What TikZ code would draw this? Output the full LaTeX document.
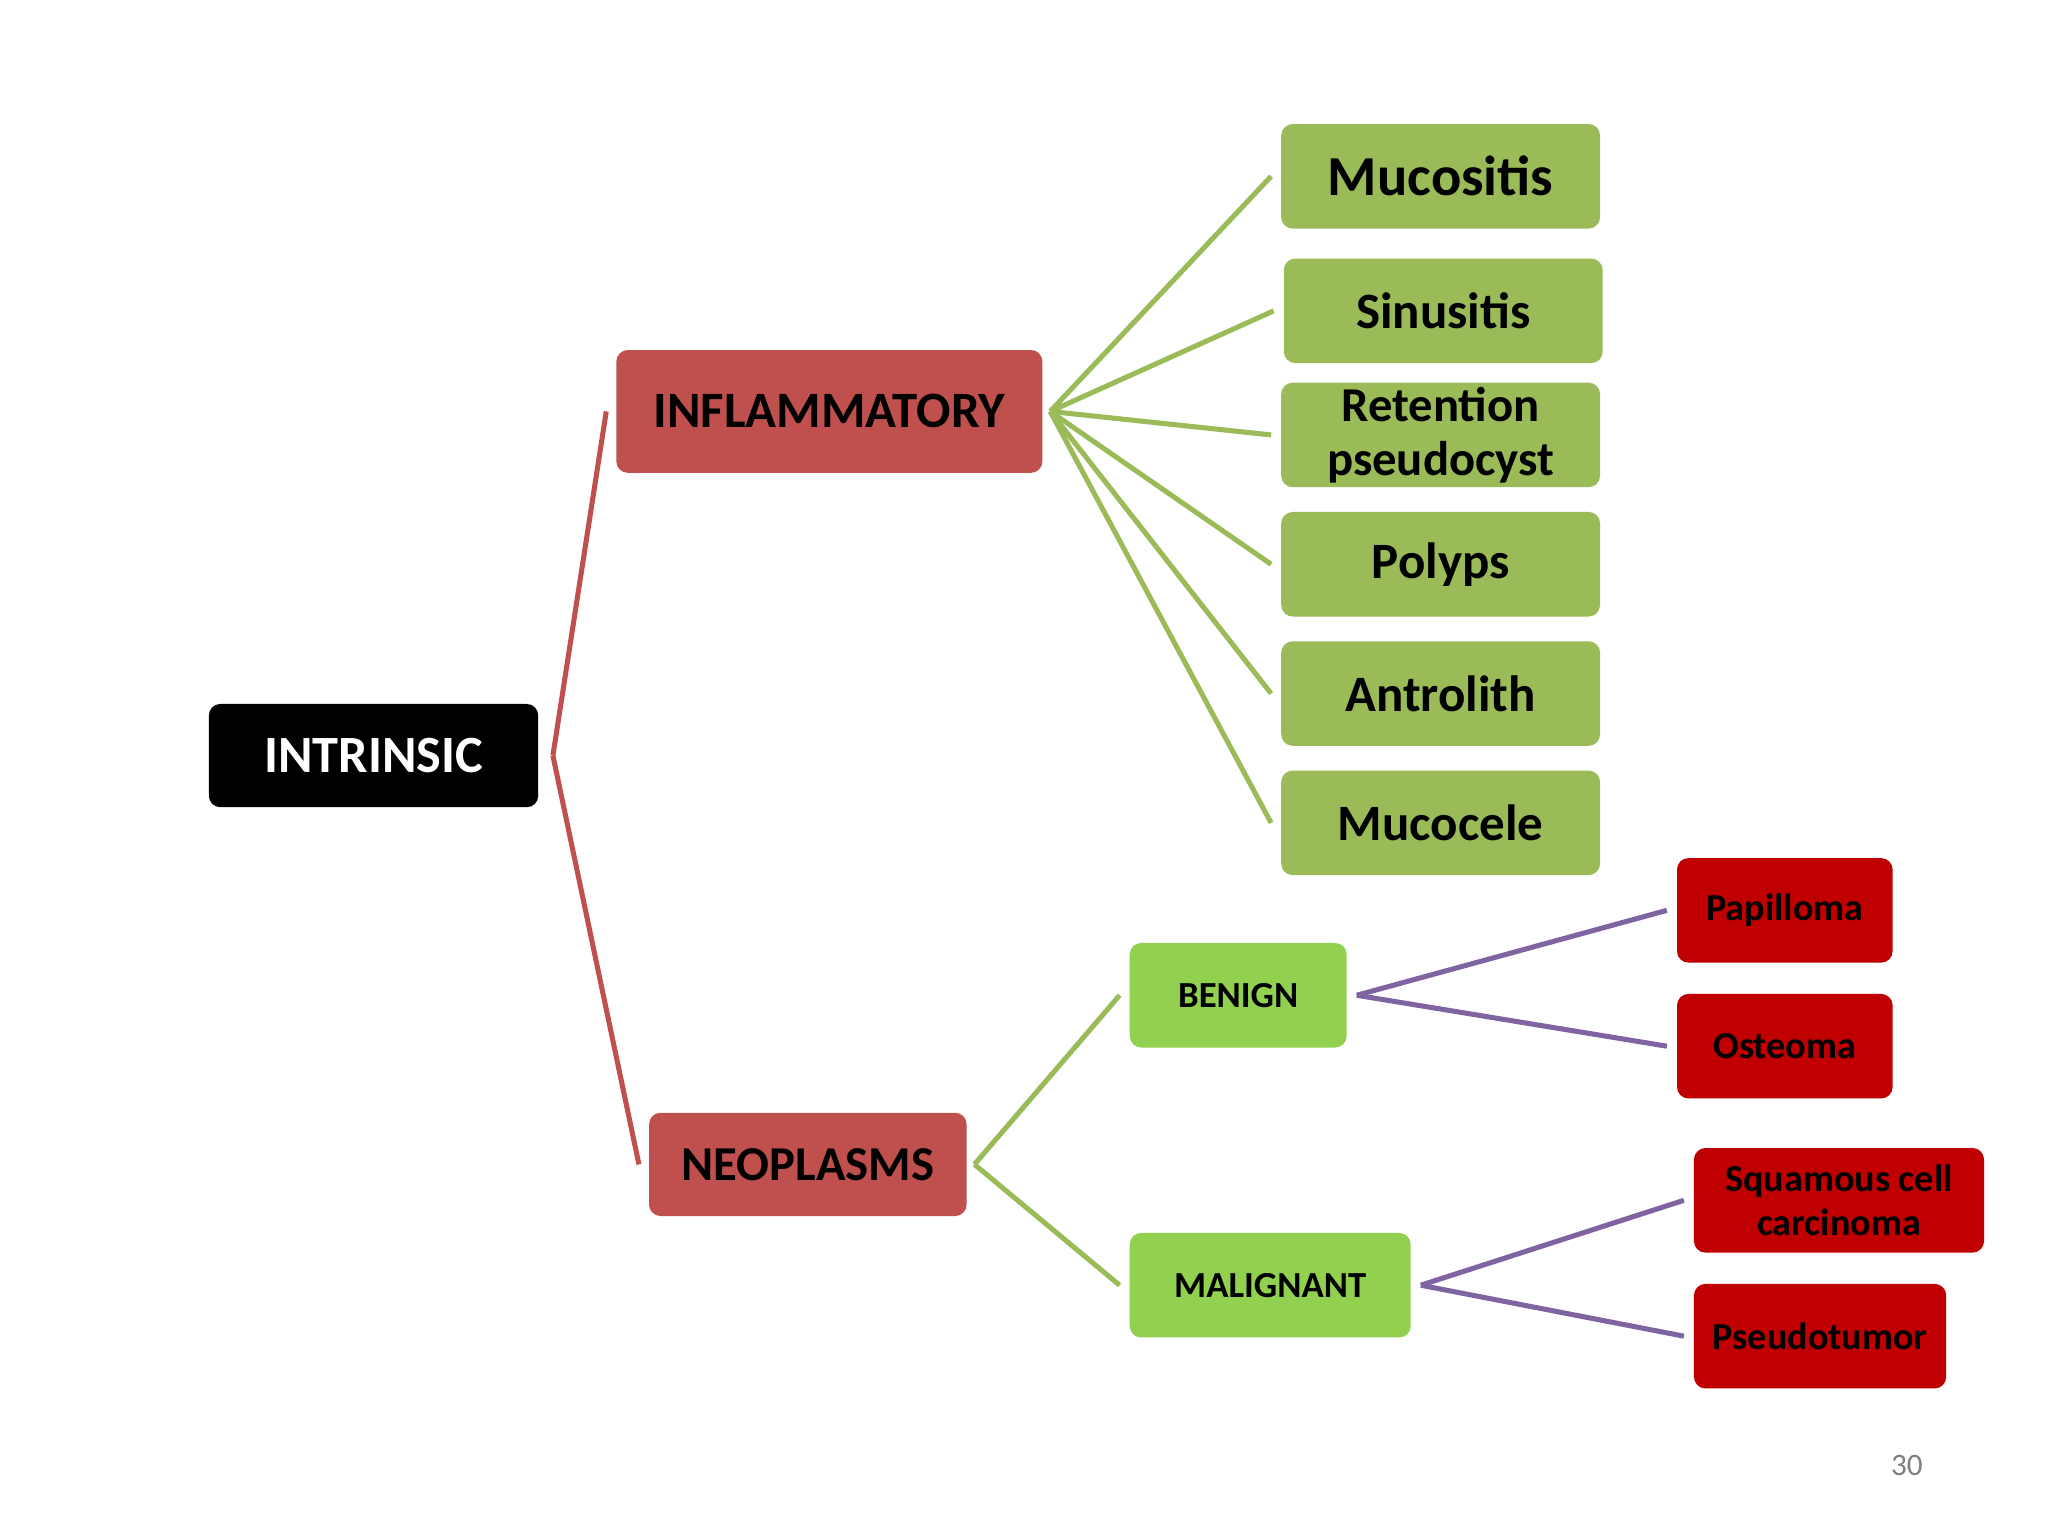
\documentclass[tikz,border=0pt]{standalone}
\usepackage{fontspec}
\setmainfont{Carlito}
\definecolor{inf}{HTML}{C0504D}
\definecolor{grn}{HTML}{9BBB59}
\definecolor{lgr}{HTML}{92D050}
\definecolor{drd}{HTML}{C00000}
\definecolor{pur}{HTML}{8064A2}
\tikzset{
 bx/.style={rounded corners=2.5pt,inner sep=0pt,align=center,font=\bfseries\fontsize{11.1}{11.6}\selectfont},
 gbox/.style={bx,fill=grn,minimum width=2.44cm,minimum height=0.8cm},
 rbox/.style={bx,fill=drd,minimum height=0.8cm,font=\bfseries\fontsize{8.3}{9.4}\selectfont},
 lbox/.style={bx,fill=lgr,minimum height=0.8cm,font=\bfseries\fontsize{8}{9}\selectfont},
}
\begin{document}
\begin{tikzpicture}[x=0.01cm,y=-0.01cm]
\useasboundingbox (0,0) rectangle (1568,1176);
\node[bx,fill=black,text=white,minimum width=2.52cm,minimum height=0.79cm,font=\bfseries\fontsize{11.4}{12}\selectfont] (in) at (286,578.5) {INTRINSIC};
\node[bx,fill=inf,minimum width=3.26cm,minimum height=0.94cm] (inf) at (635,315) {INFLAMMATORY};
\node[bx,fill=inf,minimum width=2.43cm,minimum height=0.79cm,font=\bfseries\fontsize{10.6}{11}\selectfont] (neo) at (618.5,891.5) {NEOPLASMS};
\node[gbox,font=\bfseries\fontsize{12.3}{13}\selectfont] (g1) at (1103,135) {Mucositis};
\node[gbox] (g2) at (1105,238) {Sinusitis};
\node[gbox,font=\bfseries\fontsize{10.6}{11.8}\selectfont] (g3) at (1103,333) {Retention\\pseudocyst};
\node[gbox] (g4) at (1103,432) {Polyps};
\node[gbox] (g5) at (1103,531) {Antrolith};
\node[gbox] (g6) at (1103,630) {Mucocele};
\node[lbox,minimum width=1.66cm] (b) at (948,762) {BENIGN};
\node[lbox,minimum width=2.15cm] (m) at (972.5,984) {MALIGNANT};
\node[rbox,minimum width=1.65cm] (p1) at (1366.5,697) {Papilloma};
\node[rbox,minimum width=1.65cm] (p2) at (1366.5,801) {Osteoma};
\node[rbox,minimum width=2.22cm] (p3) at (1408,919) {Squamous cell\\carcinoma};
\node[rbox,minimum width=1.93cm] (p4) at (1393.5,1023) {Pseudotumor};
\node[text=gray,font=\fontsize{6.8}{7}\selectfont] (pg) at (1460,1122) {30};
\begin{scope}[line width=1.1pt]
\draw[inf] ([xshift=3pt]in.east) -- ([xshift=-2pt]inf.west);
\draw[inf] ([xshift=3pt]in.east) -- ([xshift=-2pt]neo.west);
\foreach \g in {g1,g2,g3,g4,g5,g6}
 \draw[grn] ([xshift=1.5pt]inf.east) -- ([xshift=-2pt]\g.west);
\draw[grn] ([xshift=1.5pt]neo.east) -- ([xshift=-2pt]b.west);
\draw[grn] ([xshift=1.5pt]neo.east) -- ([xshift=-2pt]m.west);
\draw[pur] ([xshift=2pt]b.east) -- ([xshift=-2pt]p1.west);
\draw[pur] ([xshift=2pt]b.east) -- ([xshift=-2pt]p2.west);
\draw[pur] ([xshift=2pt]m.east) -- ([xshift=-2pt]p3.west);
\draw[pur] ([xshift=2pt]m.east) -- ([xshift=-2pt]p4.west);
\end{scope}
\end{tikzpicture}
\end{document}
